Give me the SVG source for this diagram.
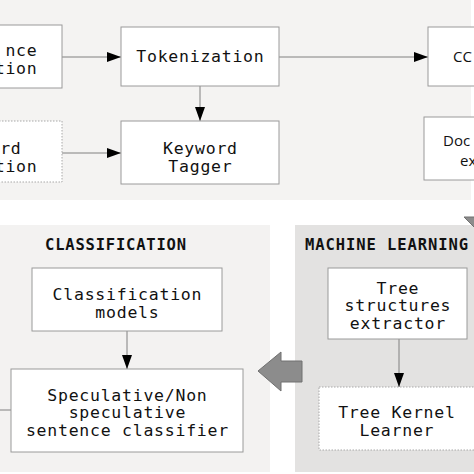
<svg xmlns="http://www.w3.org/2000/svg" width="474" height="474" viewBox="0 0 474 474">
  <defs>
    <style>
      .panel-top { fill: #f4f3f2; }
      .panel-cls { fill: #f3f2f1; }
      .panel-ml { fill: #e3e2e1; }
      .box { fill: #ffffff; stroke: #9a9a9a; stroke-width: 1; }
      .dbox { fill: #ffffff; stroke: #a8a8a8; stroke-width: 1; stroke-dasharray: 1.5 1.5; }
      .t { font-family: "DejaVu Sans Mono", "Liberation Mono", monospace; font-size: 16.5px; letter-spacing: 0.75px; fill: #111; }
      .ts { font-family: "Open Sans", "Noto Sans", sans-serif; font-size: 15px; fill: #111; }
      .lbl { font-family: "DejaVu Sans Mono", "Liberation Mono", monospace; font-size: 15.5px; font-weight: bold; fill: #111; }
      .conn { stroke: #808080; stroke-width: 1; fill: none; }
      .block { fill: #8c8c8c; stroke: #707070; stroke-width: 1; }
    </style>
    <marker id="ah" markerUnits="userSpaceOnUse" markerWidth="14" markerHeight="10" refX="14" refY="5" orient="auto">
      <path d="M0,0 L14,5 L0,10 z" fill="#000"/>
    </marker>
  </defs>

  <!-- panels -->
  <rect class="panel-top" x="0" y="0" width="471" height="200"/>
  <rect class="panel-cls" x="0" y="225" width="270" height="247"/>
  <rect class="panel-ml" x="295" y="225" width="179" height="247"/>
  <text class="lbl" x="45" y="250" textLength="141" lengthAdjust="spacing">CLASSIFICATION</text>
  <text class="lbl" x="305" y="250" textLength="163" lengthAdjust="spacing">MACHINE LEARNING</text>

  <!-- connectors -->
  <g id="connectors">
    <line class="conn" x1="62" y1="57" x2="121" y2="57" marker-end="url(#ah)"/>
    <line class="conn" x1="200" y1="86" x2="200" y2="121" marker-end="url(#ah)"/>
    <line class="conn" x1="62" y1="153" x2="121" y2="153" marker-end="url(#ah)"/>
    <line class="conn" x1="279" y1="57" x2="428" y2="57" marker-end="url(#ah)"/>
    <line class="conn" x1="127" y1="331" x2="127" y2="369" marker-end="url(#ah)"/>
    <line class="conn" x1="399" y1="339" x2="399" y2="387" marker-end="url(#ah)"/>
    <line class="conn" x1="0" y1="410" x2="11" y2="410"/>
    <polygon class="block" points="258,371 281,352 281,361 302,361 302,382 281,382 281,391"/>
    <polygon class="block" points="464,217 500,217 482,235"/>
  </g>

  <!-- nodes -->
  <g id="sentence">
    <rect class="box" x="-96" y="25" width="158" height="63"/>
    <text class="t" x="37.5" y="55.5" text-anchor="end">nce</text>
    <text class="t" x="37.5" y="73.5" text-anchor="end">tion</text>
  </g>
  <g id="keyword-extraction">
    <rect class="dbox" x="-94" y="121" width="156" height="61"/>
    <text class="t" x="21.5" y="154" text-anchor="end">rd</text>
    <text class="t" x="37.5" y="171.5" text-anchor="end">tion</text>
  </g>
  <g id="tokenization">
    <rect class="box" x="121" y="27" width="158" height="59"/>
    <text class="t" x="200.4" y="62" text-anchor="middle">Tokenization</text>
  </g>
  <g id="keyword-tagger">
    <rect class="box" x="121" y="121" width="158" height="63"/>
    <text class="t" x="200.4" y="154" text-anchor="middle">Keyword</text>
    <text class="t" x="200.4" y="171.5" text-anchor="middle">Tagger</text>
  </g>
  <g id="cc">
    <rect class="box" x="428" y="27" width="60" height="59"/>
    <text class="ts" x="453" y="62">CC</text>
  </g>
  <g id="doc">
    <rect class="box" x="424" y="117" width="60" height="63"/>
    <text class="ts" x="443" y="146">Doc</text>
    <text class="ts" x="460" y="165.5">ex</text>
  </g>
  <g id="classification-models">
    <rect class="box" x="32" y="268" width="190" height="63"/>
    <text class="t" x="127.4" y="300" text-anchor="middle">Classification</text>
    <text class="t" x="127.4" y="318" text-anchor="middle">models</text>
  </g>
  <g id="speculative-classifier">
    <rect class="box" x="11" y="369" width="232" height="83"/>
    <text class="t" x="127.4" y="400.5" text-anchor="middle">Speculative/Non</text>
    <text class="t" x="127.4" y="418" text-anchor="middle">speculative</text>
    <text class="t" x="127.4" y="435.5" text-anchor="middle">sentence classifier</text>
  </g>
  <g id="tree-extractor">
    <rect class="box" x="328" y="268" width="139" height="71"/>
    <text class="t" x="397.9" y="294" text-anchor="middle">Tree</text>
    <text class="t" x="397.9" y="311.3" text-anchor="middle">structures</text>
    <text class="t" x="397.9" y="328.6" text-anchor="middle">extractor</text>
  </g>
  <g id="tree-kernel-learner">
    <rect class="dbox" x="319" y="387" width="160" height="63"/>
    <text class="t" x="396.9" y="418" text-anchor="middle">Tree Kernel</text>
    <text class="t" x="396.9" y="435.5" text-anchor="middle">Learner</text>
  </g>
</svg>
